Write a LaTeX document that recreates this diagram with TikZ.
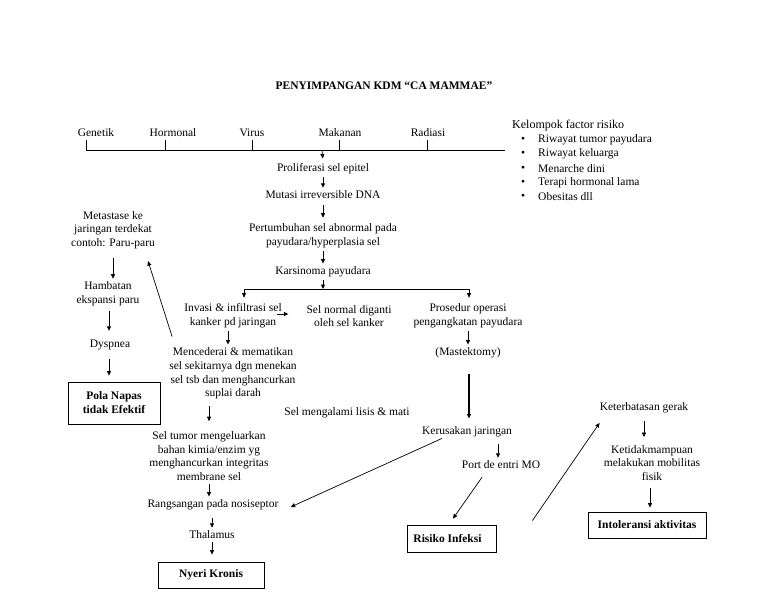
\documentclass[tikz,border=0pt]{standalone}
\usepackage{fontspec}
\setmainfont{Liberation Serif}
\usetikzlibrary{arrows.meta,calc}
\begin{document}
\begin{tikzpicture}[x=1pt,y=-1pt,
  txt/.style={font=\fontsize{11.5}{13.7}\selectfont, align=center, inner sep=3pt},
  lft/.style={font=\fontsize{11.5}{14.3}\selectfont, anchor=west, inner sep=0pt},
  box/.style={draw, line width=0.8pt, align=center, inner sep=2pt, font=\fontsize{11.5}{14}\selectfont\bfseries},
  arr/.style={-{Triangle[length=4.5pt,width=4pt]}, line width=0.7pt},
  ln/.style={line width=0.7pt}]
\useasboundingbox[fill=white] (0,0) rectangle (768,594);

% title
\node[txt, font=\fontsize{11.5}{13.7}\selectfont\bfseries] (title) at (384,86) {PENYIMPANGAN KDM “CA MAMMAE”};

% causes
\node[txt] (genetik) at (96,133) {Genetik};
\node[txt] (hormonal) at (173,133) {Hormonal};
\node[txt] (virus) at (252,133) {Virus};
\node[txt] (makanan) at (340,133) {Makanan};
\node[txt] (radiasi) at (428,133) {Radiasi};
\coordinate (l0) at (86,150);
\coordinate (l1) at (505,150);
\coordinate (t1) at (165,150);
\coordinate (t2) at (252,150);
\coordinate (t3) at (339,150);
\coordinate (t4) at (427,150);
\coordinate (lm) at (322,150);
\draw[ln] (l0) -- (l1);
\draw[ln] (l0) -- ++(0,-10);
\draw[ln] (t1) -- ++(0,-10);
\draw[ln] (t2) -- ++(0,-10);
\draw[ln] (t3) -- ++(0,-10);
\draw[ln] (t4) -- ++(0,-10);

% risk factors
\node[lft, font=\fontsize{12}{14.3}\selectfont] (kelompok) at (512,126) {Kelompok factor risiko};
\node[lft] (b1) at (521,140) {\textbullet};
\node[lft] (b2) at (521,154) {\textbullet};
\node[lft] (b3) at (521,169) {\textbullet};
\node[lft] (b4) at (521,183) {\textbullet};
\node[lft] (b5) at (521,197) {\textbullet};
\node[lft] (r1) at (538,140) {Riwayat tumor payudara};
\node[lft] (r2) at (538,154) {Riwayat keluarga};
\node[lft] (r3) at (538,169) {Menarche dini};
\node[lft] (r4) at (538,183) {Terapi hormonal lama};
\node[lft] (r5) at (538,197) {Obesitas dll};

% main chain
\node[txt] (prolif) at (323,169) {Proliferasi sel epitel};
\node[txt] (mutasi) at (323,195) {Mutasi irreversible DNA};
\node[txt] (pertumbuhan) at (323,236) {Pertumbuhan sel abnormal pada\\payudara/hyperplasia sel};
\node[txt] (karsinoma) at (323,272) {Karsinoma payudara};
\coordinate (bm) at (323,289);
\coordinate (bl) at (244,289);
\coordinate (br) at (469,289);

\node[txt] (invasi) at (233,316) {Invasi \& infiltrasi sel\\kanker pd jaringan};
\node[txt] (selnormal) at (349,316) {Sel normal diganti\\oleh sel kanker};
\node[txt] (prosedur) at (468,316) {Prosedur operasi\\pengangkatan payudara};
\node[txt] (mastektomy) at (468,353) {(Mastektomy)};
\node[txt] (mencederai) at (233,373.5) {Mencederai \& mematikan\\sel sekitarnya dgn menekan\\sel tsb dan menghancurkan\\suplai darah};

% left branch
\node[txt] (metastase) at (113,230) {Metastase ke\\jaringan terdekat\\contoh: Paru-paru};
\node[txt] (hambatan) at (108,294) {Hambatan\\ekspansi paru};
\node[txt] (dyspnea) at (110,345) {Dyspnea};
\node[box, minimum width=92pt, minimum height=42pt] (pola) at (114,403) {Pola Napas\\tidak Efektif};

% pain branch
\node[txt] (seltumor) at (209,456) {Sel tumor mengeluarkan\\bahan kimia/enzim yg\\menghancurkan integritas\\membrane sel};
\node[txt] (rangsangan) at (213,505) {Rangsangan pada nosiseptor};
\node[txt] (thalamus) at (212,535) {Thalamus};
\node[box, minimum width=106pt, minimum height=26pt] (nyeri) at (211,575) {Nyeri Kronis};

\node[txt] (lisis) at (347,413) {Sel mengalami lisis \& mati};

% right branch
\node[txt] (kerusakan) at (467,432) {Kerusakan jaringan};
\node[txt] (port) at (501,465) {Port de entri MO};
\node[box, minimum width=89pt, minimum height=27pt] (risiko) at (451.5,538.5) {Risiko Infeksi\hspace*{8pt}};
\node[txt] (keterbatasan) at (644,408) {Keterbatasan gerak};
\node[txt] (ketidak) at (652,463) {Ketidakmampuan\\melakukan mobilitas\\fisik};
\node[box, minimum width=118pt, minimum height=26pt] (intoleransi) at (647,525) {Intoleransi aktivitas};

% connectors
\draw[arr, shorten >=2pt] (lm) -- (prolif.north);
\draw[arr] (prolif.south) -- (mutasi.north);
\draw[arr, shorten <=3pt, shorten >=3pt] (mutasi.south) -- (pertumbuhan.north);
\draw[arr] (pertumbuhan.south) -- (karsinoma.north);
\draw[arr] (karsinoma.south) -- (bm);
\draw[ln] (bl) -- (br);
\draw[arr, shorten >=3pt] (bl) -- (bl |- invasi.north);
\draw[arr, shorten >=3pt] (br) -- (br |- prosedur.north);
\draw[arr] ([shift={(-8,-2)}]invasi.east) -- ([shift={(-15,-2)}]selnormal.west);
\draw[arr] ([xshift=-5pt]invasi.south) -- ([xshift=-5pt]mencederai.north);
\draw[arr] (prosedur.south) -- (mastektomy.north);
\draw[arr, line width=1.2pt, shorten <=13pt, shorten >=5pt] ([xshift=1pt]mastektomy.south) -- ([xshift=2pt]kerusakan.north);
\draw[arr] ([shift={(6,-8)}]mencederai.north west) -- ([shift={(-10,9)}]metastase.south east);
\draw[arr, shorten <=6pt] (metastase.south) -- (metastase.south |- hambatan.north);
\draw[arr, shorten <=2pt, shorten >=6pt] ([xshift=1pt]hambatan.south) -- ([xshift=1pt]hambatan.south |- dyspnea.north);
\draw[arr, shorten <=6pt, shorten >=6pt] ([xshift=-1pt]dyspnea.south) -- ([xshift=-5pt]pola.north);
\draw[arr, shorten <=4pt, shorten >=7pt] (mencederai.south -| seltumor.north) -- (seltumor.north);
\draw[arr] (seltumor.south) -- (seltumor.south |- rangsangan.north);
\draw[arr] ([shift={(23,-2)}]kerusakan.south west) -- ([shift={(9,2)}]rangsangan.east);
\draw[arr, shorten <=5pt] ([xshift=-1pt]rangsangan.south) -- (thalamus.north);
\draw[arr, shorten >=7pt] (thalamus.south) -- (thalamus.south |- nyeri.north);
\draw[arr, shorten <=4pt] ([xshift=-3pt]port.north |- kerusakan.south) -- ([xshift=-3pt]port.north);
\draw[arr] ([shift={(-19,5)}]port.south) -- ([shift={(1.5,-6)}]risiko.north);
\draw[arr] ([shift={(36,-4)}]risiko.north east) -- ([shift={(3,6.5)}]keterbatasan.south west);
\draw[arr, shorten <=5pt, shorten >=5pt] (keterbatasan.south) -- (keterbatasan.south |- ketidak.north);
\draw[arr, shorten <=4pt, shorten >=4pt] ([xshift=-2pt]ketidak.south) -- ([xshift=-2pt]ketidak.south |- intoleransi.north);
\end{tikzpicture}
\end{document}
